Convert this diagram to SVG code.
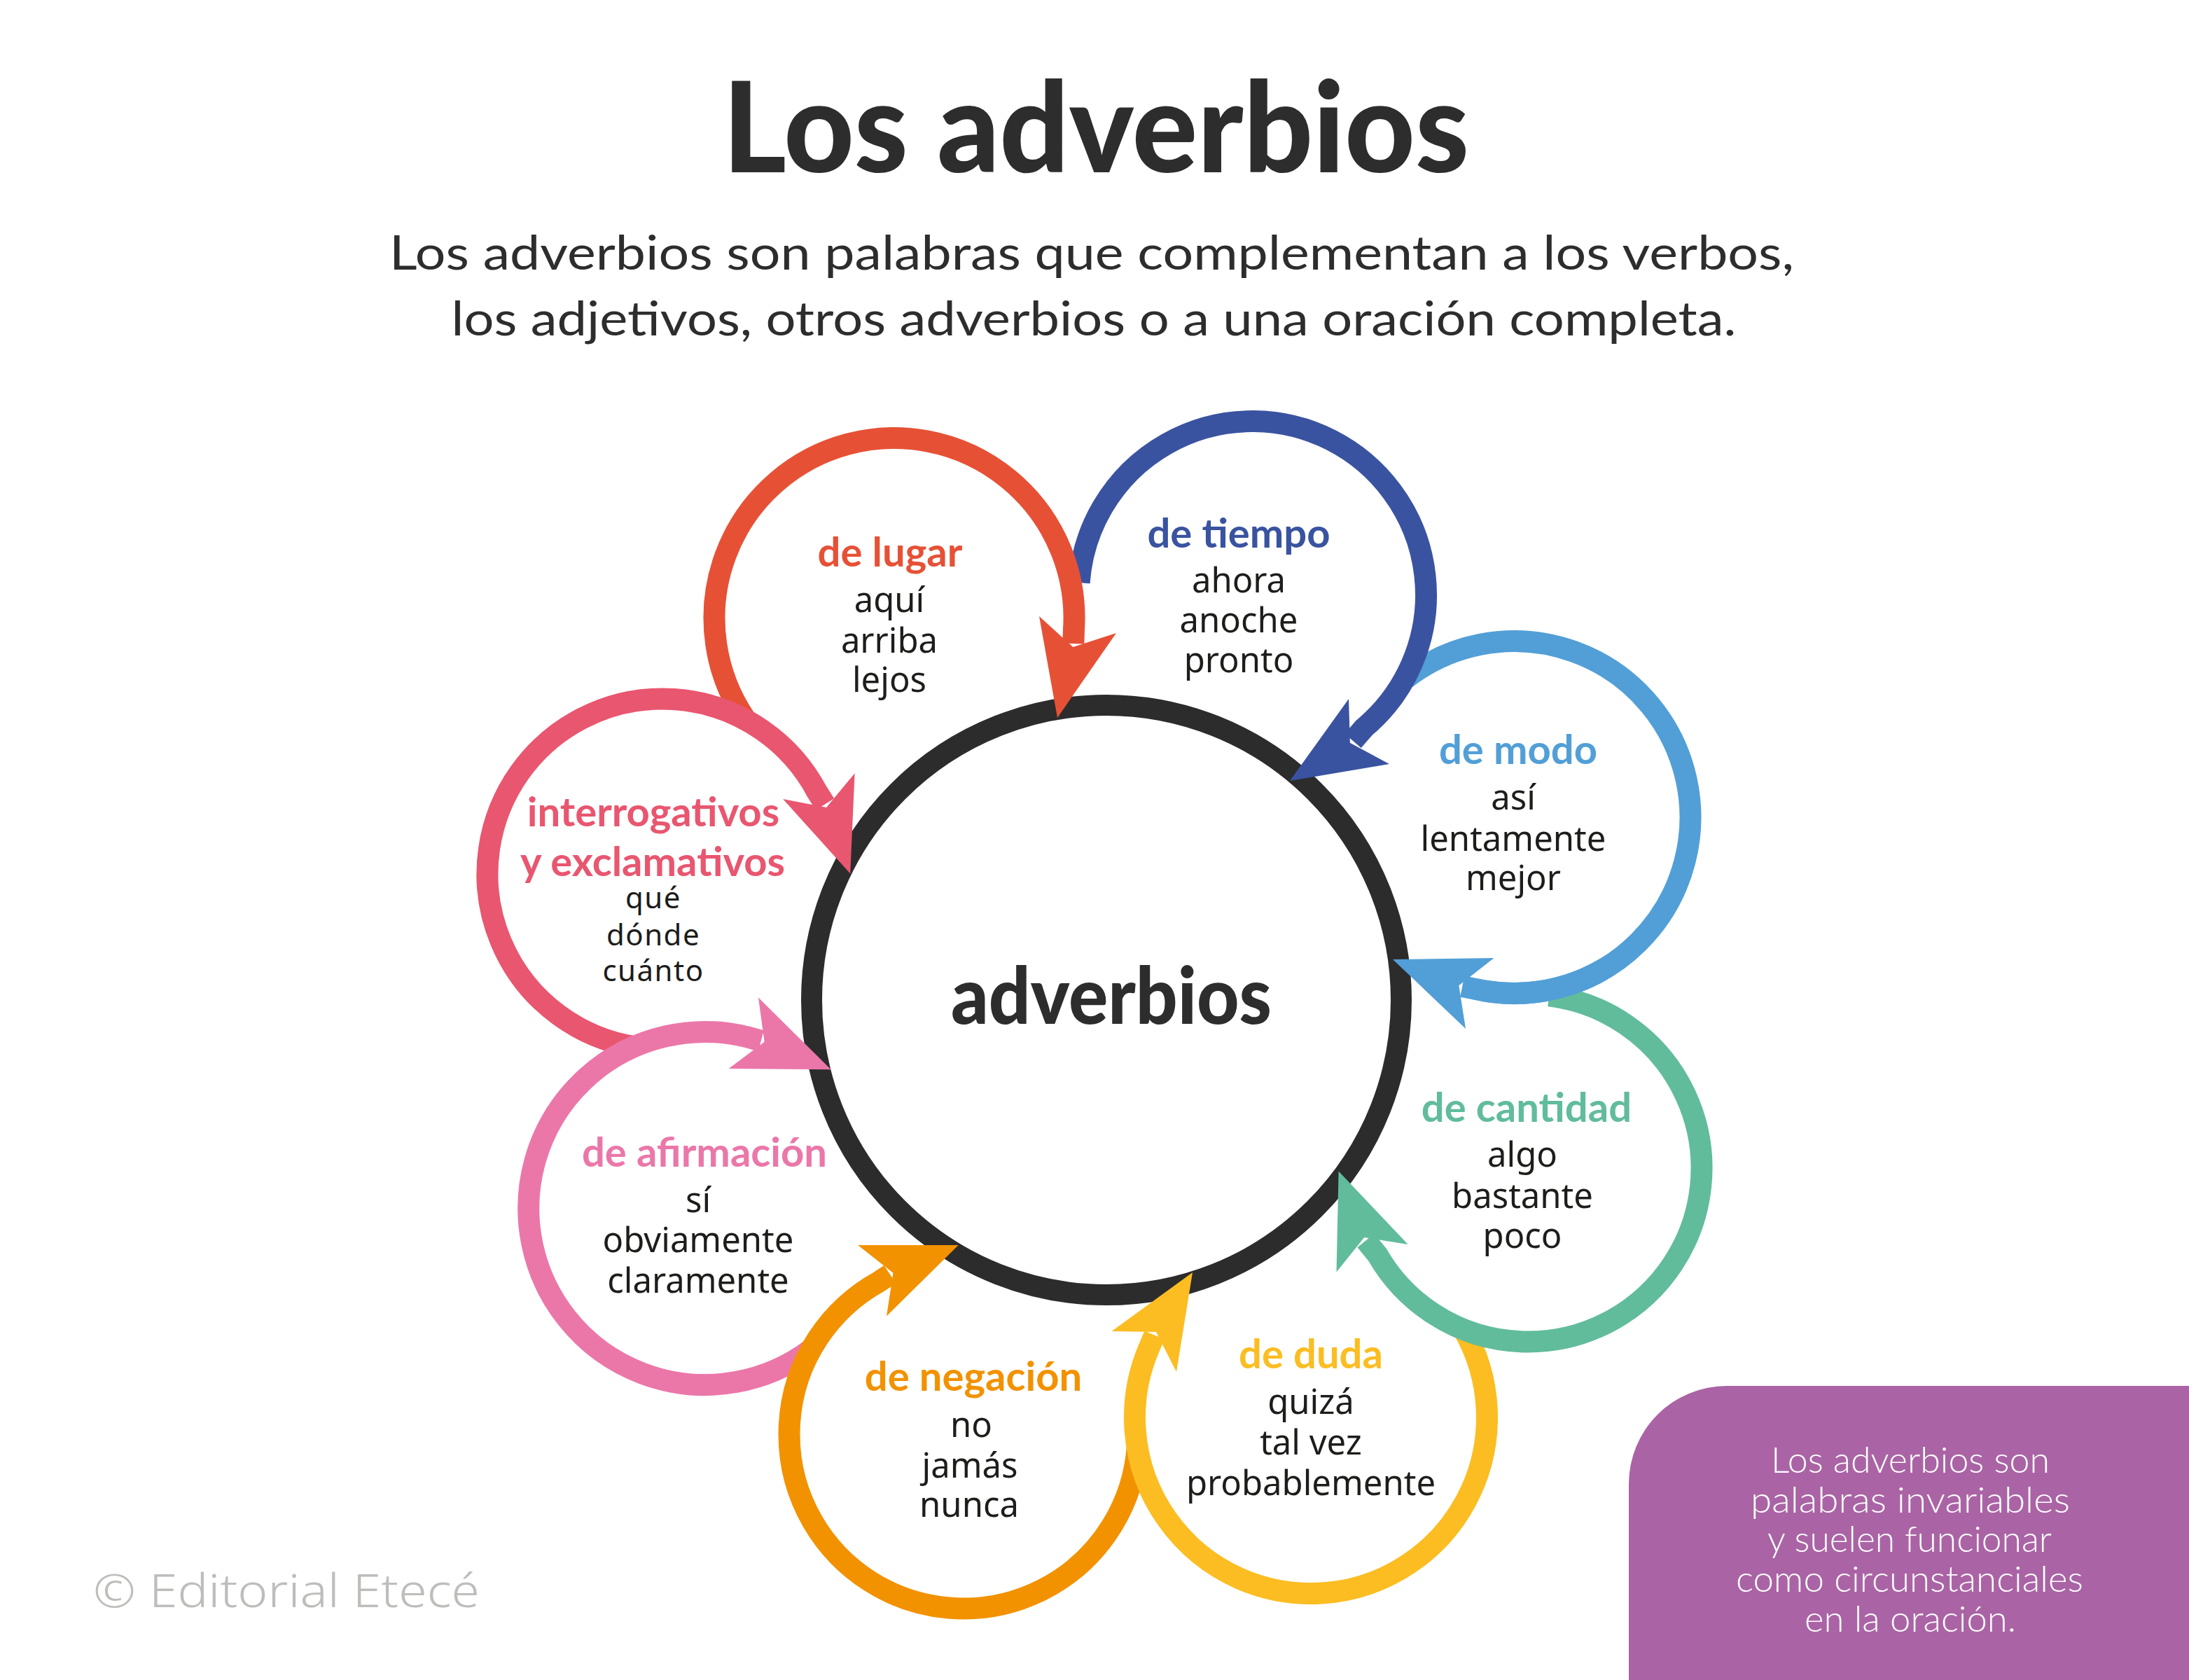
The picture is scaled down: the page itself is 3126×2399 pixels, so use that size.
<svg xmlns="http://www.w3.org/2000/svg" width="3126" height="2399" viewBox="0 0 3126 2399">
<style>
  .ring{fill:none;stroke-width:31;stroke-linecap:butt;stroke-linejoin:round}
  .lbl{font-family:Lato,"Liberation Sans",sans-serif;font-weight:700;font-size:58px;text-anchor:middle}
  .word{font-family:"Noto Sans","DejaVu Sans",sans-serif;font-size:49px;fill:#1D1D1B;text-anchor:middle}
  .small{font-size:42px;letter-spacing:1.5px}
  .box{font-family:Lato,"Liberation Sans",sans-serif;font-weight:300;font-size:51px;fill:#FFFFFF;text-anchor:middle}
  .red{stroke:#E65136;fill:#E65136}
  .blue{stroke:#3A53A0;fill:#3A53A0}
  .lb{stroke:#529FD7;fill:#529FD7}
  .green{stroke:#61BC9C;fill:#61BC9C}
  .yellow{stroke:#FBBD22;fill:#FBBD22}
  .orange{stroke:#F29200;fill:#F29200}
  .pink{stroke:#EB77A9;fill:#EB77A9}
  .rose{stroke:#E9566F;fill:#E9566F}
  .ring.red,.ring.blue,.ring.lb,.ring.green,.ring.yellow,.ring.orange,.ring.pink,.ring.rose{fill:none}
  .arrow{stroke:none}
  .t-red{fill:#E65136}.t-blue{fill:#3A53A0}.t-lb{fill:#529FD7}.t-green{fill:#61BC9C}
  .t-yellow{fill:#FBBD22}.t-orange{fill:#F29200}.t-pink{fill:#EB77A9}.t-rose{fill:#E9566F}
</style>
<rect width="3126" height="2399" fill="#FFFFFF"/>

<g id="titulo">
  <text x="1565" y="246" font-family="Lato,'Liberation Sans',sans-serif" font-weight="900" font-size="180" fill="#2D2D2D" text-anchor="middle" textLength="1066" lengthAdjust="spacingAndGlyphs">Los adverbios</text>
  <text x="1559" y="385" font-family="Lato,'Liberation Sans',sans-serif" font-weight="400" font-size="67" fill="#2D2D2D" text-anchor="middle" textLength="2006" lengthAdjust="spacingAndGlyphs">Los adverbios son palabras que complementan a los verbos,</text>
  <text x="1562" y="479" font-family="Lato,'Liberation Sans',sans-serif" font-weight="400" font-size="67" fill="#2D2D2D" text-anchor="middle" textLength="1835" lengthAdjust="spacingAndGlyphs">los adjetivos, otros adverbios o a una oración completa.</text>
</g>

<g id="node-adverbios">
  <circle cx="1580" cy="1428" r="421" fill="none" stroke="#2C2C2C" stroke-width="30"/>
  <text x="1587" y="1462" font-family="Lato,'Liberation Sans',sans-serif" font-weight="900" font-size="112" fill="#2D2D2D" text-anchor="middle" textLength="458" lengthAdjust="spacingAndGlyphs">adverbios</text>
</g>

<!-- rings drawn in overlap order -->
<g id="node-modo">
  <path class="ring lb" d="M2007.7,968.8 A251.5,251.5 0 1 1 2105.9,1412.1 L2088.2,1408.6"/>
  <text class="lbl t-lb" x="2168" y="1091">de modo</text>
  <text class="word" x="2161" y="1156">así</text>
  <text class="word" x="2161" y="1215">lentamente</text>
  <text class="word" x="2161" y="1271">mejor</text>
</g>
<g id="node-tiempo">
  <path class="ring blue" d="M1541.1,832.2 A248,248 0 1 1 1947.9,1039.5 L1932,1057.9"/>
  <text class="lbl t-blue" x="1769" y="782">de tiempo</text>
  <text class="word" x="1769" y="846">ahora</text>
  <text class="word" x="1769" y="903">anoche</text>
  <text class="word" x="1769" y="960">pronto</text>
</g>
<g id="node-lugar">
  <path class="ring red" d="M1063.9,1026.2 A257,257 0 1 1 1533.4,900.4 L1532.9,919"/>
  <text class="lbl t-red" x="1271" y="809">de lugar</text>
  <text class="word" x="1270" y="874">aquí</text>
  <text class="word" x="1270" y="932">arriba</text>
  <text class="word" x="1270" y="988">lejos</text>
</g>
<g id="node-interrogativos">
  <path class="ring rose" d="M906.9,1494.9 A250,250 0 1 1 1166.7,1130.6 L1178,1148.6"/>
  <text class="lbl t-rose" x="933" y="1180">interrogativos</text>
  <text class="lbl t-rose" x="932" y="1251">y exclamativos</text>
  <text class="word small" x="933" y="1297">qué</text>
  <text class="word small" x="933" y="1350">dónde</text>
  <text class="word small" x="933" y="1401">cuánto</text>
</g>
<g id="node-afirmacion">
  <path class="ring pink" d="M1158.5,1926.7 A252,252 0 1 1 1067.8,1481 L1086.8,1486.2"/>
  <text class="lbl t-pink" x="1006" y="1666">de afirmación</text>
  <text class="word" x="997" y="1731">sí</text>
  <text class="word" x="997" y="1788">obviamente</text>
  <text class="word" x="997" y="1846">claramente</text>
</g>
<g id="node-negacion">
  <path class="ring orange" d="M1624.4,2065.4 A249,249 0 1 1 1255.3,1830.2 L1271,1819.8"/>
  <text class="lbl t-orange" x="1390" y="1986">de negación</text>
  <text class="word" x="1387" y="2052">no</text>
  <text class="word" x="1385" y="2110">jamás</text>
  <text class="word" x="1384" y="2166">nunca</text>
</g>
<g id="node-duda">
  <path class="ring yellow" d="M2089.8,1898.3 A251.5,251.5 0 1 1 1640.5,1925.7 L1648.7,1906.5"/>
  <text class="lbl t-yellow" x="1872" y="1954">de duda</text>
  <text class="word" x="1872" y="2019">quizá</text>
  <text class="word" x="1872" y="2077">tal vez</text>
  <text class="word" x="1872" y="2135">probablemente</text>
</g>
<g id="node-cantidad">
  <path class="ring green" d="M2212.2,1421.9 A248,248 0 1 1 1967.2,1792 L1950.4,1771.5"/>
  <text class="lbl t-green" x="2180" y="1602">de cantidad</text>
  <text class="word" x="2174" y="1666">algo</text>
  <text class="word" x="2174" y="1725">bastante</text>
  <text class="word" x="2174" y="1782">poco</text>
</g>
<g id="node-modo-overlap">
  <path class="ring lb" d="M2288.3,1384.8 A251.5,251.5 0 0 1 2118.8,1414.7"/>
</g>

<g id="connectors">
  <polygon class="arrow red" points="1510,1025 1484,880 1532.3,923.9 1594,904"/>
  <polygon class="arrow blue" points="1842,1115 1926,998 1927.9,1060.8 1984,1091"/>
  <polygon class="arrow lb" points="1989,1370 2133.5,1368 2083.4,1407.2 2093,1469"/>
  <polygon class="arrow green" points="1911.6,1672.4 2010.7,1777 1948.2,1767 1908.5,1816.6"/>
  <polygon class="arrow yellow" points="1703,1817 1587.5,1901 1651,1902 1680,1959"/>
  <polygon class="arrow orange" points="1368.7,1778 1225,1778 1275.5,1817.7 1266,1879.5"/>
  <polygon class="arrow pink" points="1186.6,1527.2 1083,1424.6 1091.6,1487.7 1040.6,1525.9"/>
  <polygon class="arrow rose" points="1214.2,1247.5 1220.6,1104.3 1180.1,1153.1 1118.1,1141.1"/>
</g>

<g id="nota">
  <path d="M2326,2399 L2326,2119 A140,140 0 0 1 2466,1979 L3126,1979 L3126,2399 Z" fill="#AA64A5"/>
  <text class="box" x="2728" y="2103" textLength="398" lengthAdjust="spacingAndGlyphs">Los adverbios son</text>
  <text class="box" x="2728" y="2160" textLength="456" lengthAdjust="spacingAndGlyphs">palabras invariables</text>
  <text class="box" x="2727" y="2216" textLength="406" lengthAdjust="spacingAndGlyphs">y suelen funcionar</text>
  <text class="box" x="2727" y="2273" textLength="496" lengthAdjust="spacingAndGlyphs">como circunstanciales</text>
  <text class="box" x="2728" y="2330" textLength="302" lengthAdjust="spacingAndGlyphs">en la oración.</text>
</g>

<g id="copyright">
  <text x="133" y="2295" font-family="'Noto Sans','DejaVu Sans',sans-serif" font-weight="300" font-size="66" fill="#BDBDBB" textLength="552" lengthAdjust="spacingAndGlyphs">© Editorial Etecé</text>
</g>
</svg>
